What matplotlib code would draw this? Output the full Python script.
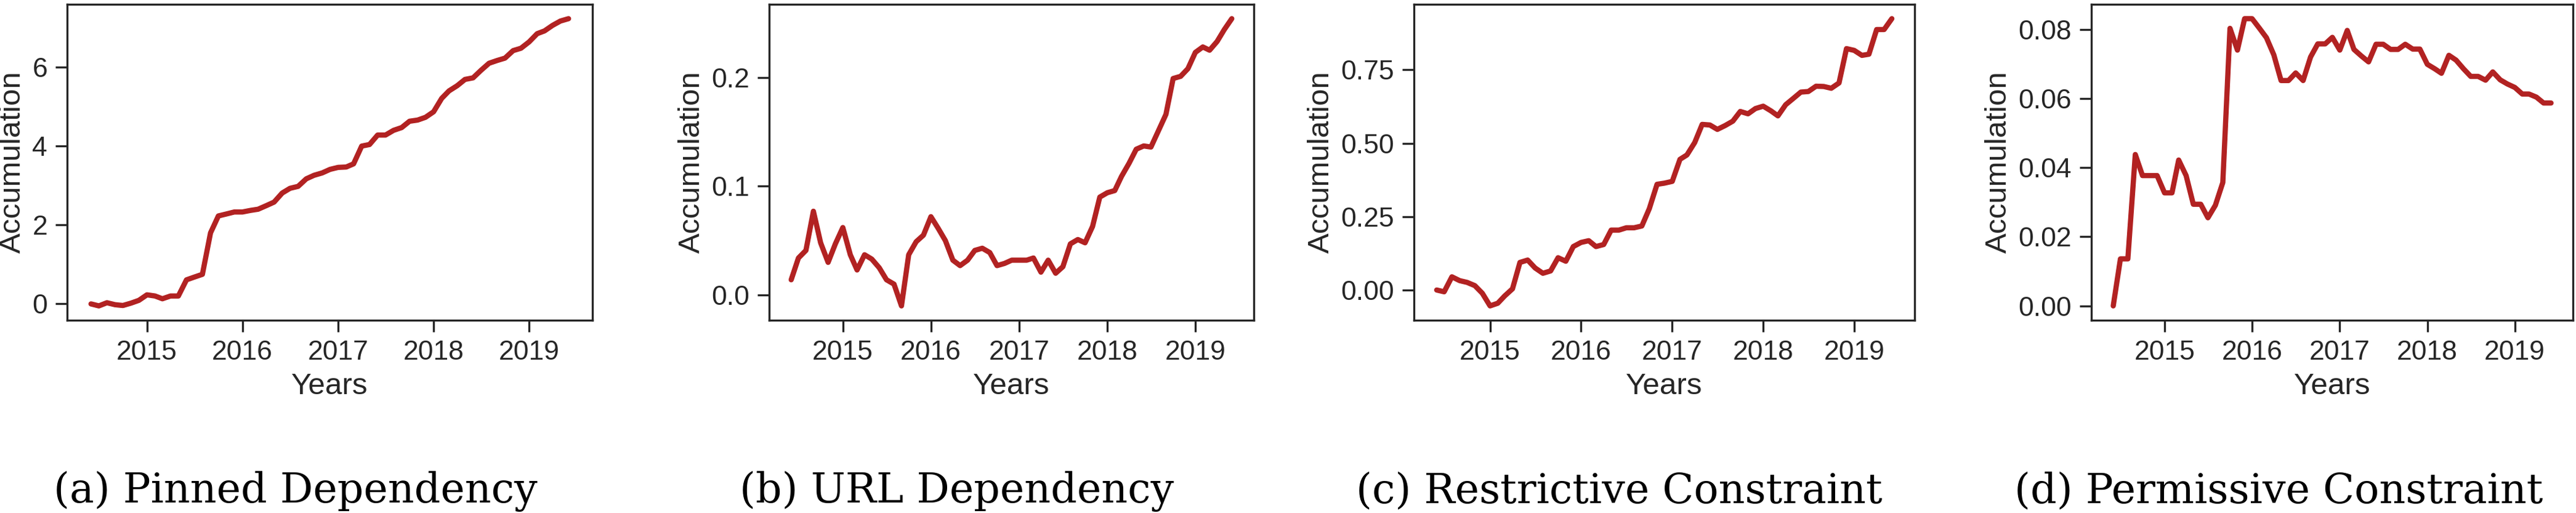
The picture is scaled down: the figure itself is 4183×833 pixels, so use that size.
import matplotlib
matplotlib.use("Agg")
import matplotlib.pyplot as plt
import matplotlib.dates as mdates
from matplotlib.ticker import MultipleLocator, FormatStrFormatter
import pandas as pd

# monthly observations, June 2014 .. June 2019
months = pd.date_range("2014-06-01", periods=61, freq="MS")

pinned = [0.00, -0.05, 0.03, -0.02, -0.04, 0.02, 0.09, 0.23, 0.20, 0.13,
          0.20, 0.20, 0.61, 0.68, 0.75, 1.80, 2.23, 2.28, 2.33, 2.33,
          2.37, 2.40, 2.49, 2.58, 2.81, 2.93, 2.98, 3.17, 3.26, 3.32,
          3.41, 3.46, 3.47, 3.55, 4.00, 4.04, 4.28, 4.28, 4.40, 4.47,
          4.63, 4.66, 4.73, 4.87, 5.21, 5.40, 5.53, 5.69, 5.73, 5.92,
          6.10, 6.17, 6.23, 6.42, 6.48, 6.64, 6.85, 6.92, 7.06, 7.17,
          7.23]

url = [0.014, 0.034, 0.041, 0.077, 0.048, 0.030, 0.047, 0.062, 0.037, 0.023,
       0.037, 0.033, 0.025, 0.014, 0.010, -0.010, 0.037, 0.049, 0.055, 0.072,
       0.061, 0.050, 0.032, 0.027, 0.032, 0.041, 0.043, 0.039, 0.027, 0.029,
       0.032, 0.032, 0.032, 0.034, 0.021, 0.032, 0.020, 0.026, 0.047, 0.051,
       0.048, 0.063, 0.090, 0.094, 0.096, 0.109, 0.121, 0.134, 0.137, 0.136,
       0.151, 0.166, 0.199, 0.201, 0.208, 0.223, 0.228, 0.225, 0.233, 0.244,
       0.254]

restrictive = [0.000, -0.006, 0.045, 0.032, 0.026, 0.015, -0.011, -0.054, -0.045, -0.020,
               0.004, 0.094, 0.102, 0.075, 0.057, 0.065, 0.110, 0.098, 0.148, 0.162,
               0.168, 0.148, 0.155, 0.204, 0.204, 0.212, 0.212, 0.218, 0.277, 0.360,
               0.364, 0.370, 0.445, 0.460, 0.502, 0.564, 0.562, 0.547, 0.560, 0.575,
               0.608, 0.600, 0.618, 0.626, 0.610, 0.593, 0.631, 0.652, 0.674, 0.676,
               0.694, 0.693, 0.687, 0.705, 0.822, 0.816, 0.799, 0.803, 0.887, 0.887,
               0.924]

permissive = [0.0000, 0.0136, 0.0136, 0.0438, 0.0377, 0.0377, 0.0377, 0.0327, 0.0327, 0.0422,
              0.0377, 0.0294, 0.0294, 0.0255, 0.0291, 0.0357, 0.0803, 0.0740, 0.0831, 0.0831,
              0.0803, 0.0776, 0.0726, 0.0652, 0.0652, 0.0674, 0.0652, 0.0720, 0.0758, 0.0758,
              0.0777, 0.0740, 0.0797, 0.0742, 0.0723, 0.0706, 0.0757, 0.0757, 0.0742, 0.0742,
              0.0757, 0.0743, 0.0743, 0.0699, 0.0686, 0.0673, 0.0725, 0.0711, 0.0686, 0.0664,
              0.0664, 0.0653, 0.0677, 0.0654, 0.0642, 0.0632, 0.0613, 0.0613, 0.0604, 0.0587,
              0.0587]

series = [pinned, url, restrictive, permissive]
captions = ["(a) Pinned Dependency", "(b) URL Dependency",
            "(c) Restrictive Constraint", "(d) Permissive Constraint"]
ysteps = [2, 0.1, 0.25, 0.02]
yfmts = ["%d", "%.1f", "%.2f", "%.2f"]

W, H = 4183, 833
# axes boxes in pixels: left, right
boxes = [(109, 962), (1249, 2036), (2296, 3109), (3396, 4178)]
caption_x = [480, 1554, 2629, 3700]
top, bottom = 7, 520

dark = "#262626"
plt.rcParams["font.family"] = ["Liberation Sans", "DejaVu Sans"]
plt.rcParams["text.color"] = dark
plt.rcParams["axes.labelcolor"] = dark
plt.rcParams["xtick.color"] = dark
plt.rcParams["ytick.color"] = dark

fig = plt.figure(figsize=(W / 100, H / 100), dpi=100)

for i in range(4):
    l, r = boxes[i]
    ax = fig.add_axes([l / W, (H - bottom) / H, (r - l) / W, (bottom - top) / H])
    ax.plot(months, series[i], color="#B22222", lw=6.1, solid_capstyle="round")
    ax.xaxis.set_major_locator(mdates.YearLocator())
    ax.xaxis.set_major_formatter(mdates.DateFormatter("%Y"))
    ax.yaxis.set_major_locator(MultipleLocator(ysteps[i]))
    ax.yaxis.set_major_formatter(FormatStrFormatter(yfmts[i]))
    ax.tick_params(labelsize=32, length=14, width=2.4, pad=9, color=dark)
    for s in ax.spines.values():
        s.set_linewidth(2.4)
        s.set_color(dark)
    ax.set_xlabel("Years", fontsize=35.5, labelpad=9)
    ax.set_ylabel("Accumulation", fontsize=35.5, labelpad=7)
    fig.text(caption_x[i] / W, (H - 816) / H, captions[i], ha="center",
             va="baseline", fontsize=48, family="DejaVu Serif", color="black")

fig.savefig("out.png", dpi=100)
